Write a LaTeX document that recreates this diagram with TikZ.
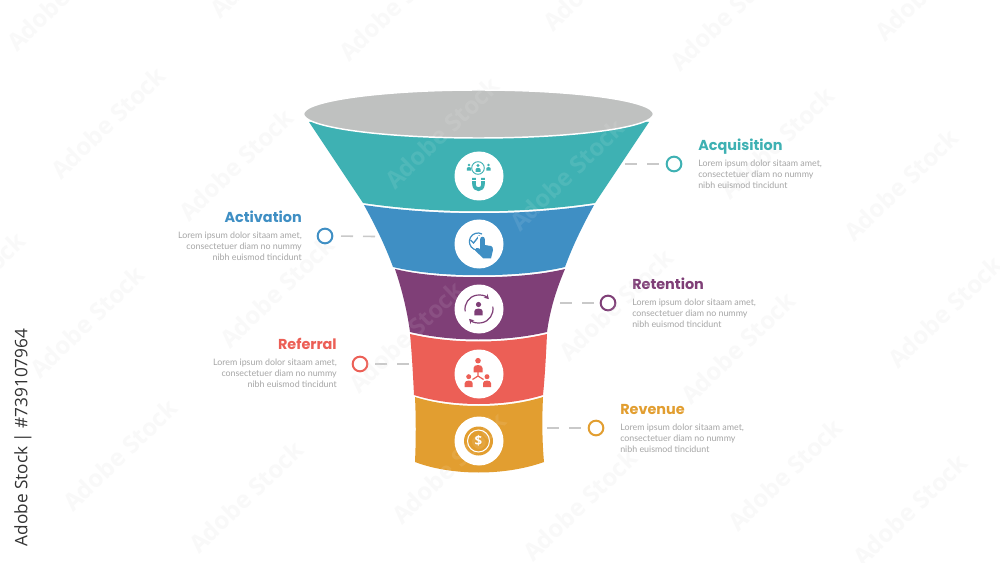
\documentclass[tikz,border=0pt]{standalone}
\usepackage{fontspec}
\usetikzlibrary{arrows.meta}
\setmainfont{Lato}
\newfontfamily\headf{Poppins}
\newfontfamily\sidef{Open Sans}
\definecolor{cteal}{HTML}{3EB1B3}
\definecolor{cblue}{HTML}{3F8FC4}
\definecolor{cpurple}{HTML}{7F3F77}
\definecolor{cred}{HTML}{EC5F56}
\definecolor{cyel}{HTML}{E29E30}
\definecolor{cgrey}{HTML}{BFC1C0}
\definecolor{cdash}{HTML}{C9C9C9}
\definecolor{cbody}{HTML}{A6A6A6}
\tikzset{
  x=0.75pt,y=-0.75pt,
  iconbg/.style={circle,fill=white,minimum size=36.75pt,inner sep=0pt},
  dot/.style={circle,draw=#1,line width=1.5pt,fill=white,minimum size=11pt,inner sep=0pt},
  lead/.style={draw=cdash,line width=1.2pt,dash pattern=on 9pt off 7.5pt},
  headl/.style={font=\headf\bfseries\fontsize{10.8}{12}\selectfont,text=#1,inner sep=0pt},
  bodyl/.style={font=\fontsize{6.65}{8.25}\selectfont,text=cbody,inner sep=0pt},
  mark wm/.style={font=\sidef\bfseries\fontsize{18}{18}\selectfont,rotate=44,inner sep=0pt},
}
\newcommand{\figperson}[4]{% x y size colour
  \fill[#4] (#1,#2) circle ({#3*0.62});
  \fill[#4] ({#1-#3},{#2+#3*2.6}) -- ({#1-#3},{#2+#3*1.6}) .. controls ({#1-#3},{#2+#3*0.75}) and ({#1+#3},{#2+#3*0.75}) .. ({#1+#3},{#2+#3*1.6}) -- ({#1+#3},{#2+#3*2.6}) -- cycle;
}
\begin{document}
\begin{tikzpicture}
\useasboundingbox (0,0) rectangle (1000,563);
\fill[white] (0,0) rectangle (1000,563);
\begin{scope}
\clip (0,0) rectangle (1000,563);
\foreach \wx/\wy in {600/-25,727/15,932/-15,777/143,901/185,616/305,945/312,64/-5,267/-38,396/5,108/123,236/165,-32/288,87/322,277/292,120/455,246/497,738/348,785/475,910/510,406/337,449/468,580/505,567/175,442/133}
  \node[mark wm,text=black!2.5] at (\wx,\wy) {Adobe Stock};
\end{scope}
% funnel bands
\fill[cteal] (309,122) -- (479,100) -- (649,122)
  .. controls (631,149) and (613,176) .. (595,203)
  .. controls (520,214) and (438,214) .. (363,203)
  .. controls (345,176) and (327,149) .. (309,122) -- cycle;
\fill[cblue] (364,205) .. controls (438,216) and (520,216) .. (594,205)
  .. controls (583,225) and (573,245) .. (565,267)
  .. controls (520,278) and (438,278) .. (393,267)
  .. controls (385,245) and (375,225) .. (364,205) -- cycle;
\fill[cpurple] (395,269) .. controls (438,280) and (520,280) .. (565,269)
  .. controls (556,290) and (550,310) .. (547,332)
  .. controls (505,342) and (452,342) .. (410,332)
  .. controls (407,310) and (402,290) .. (395,269) -- cycle;
\fill[cred] (410,334) .. controls (452,344) and (505,344) .. (547,334)
  .. controls (546,355) and (545,375) .. (543,395)
  .. controls (505,407) and (452,407) .. (414,395)
  .. controls (413,375) and (412,355) .. (410,334) -- cycle;
\fill[cyel] (415,397) .. controls (452,409) and (505,409) .. (543,397)
  .. controls (542,418) and (542,440) .. (544,462)
  .. controls (505,476) and (452,476) .. (415,462)
  .. controls (416,440) and (416,418) .. (415,397) -- cycle;
\fill[cgrey,draw=white,line width=1.1pt] (478.5,114) ellipse [x radius=175, y radius=24];
% icon backgrounds
\node[iconbg] (iA) at (479,176) {};
\node[iconbg] (iB) at (479,244) {};
\node[iconbg] (iC) at (479,309) {};
\node[iconbg] (iD) at (479,374) {};
\node[iconbg] (iE) at (479,441) {};
% acquisition icon
\draw[cteal,line width=.7pt] (478,168) circle (6.3);
\figperson{478}{165.5}{2.5}{cteal}
\figperson{469}{165}{2.2}{cteal}
\figperson{488.5}{165}{2.2}{cteal}
\draw[cteal,line width=2.7pt] (474,178) -- (474,184) .. controls (474,191) and (483,191) .. (483,184) -- (483,178);
\draw[white,line width=.6pt] (472,180.5) -- (485,180.5);
% activation icon
\draw[cblue,line width=.9pt] (482,234) arc[start angle=-62,end angle=-300,radius=8.6];
\draw[cblue,line width=1pt] (470.5,240) -- (473.5,243) -- (479.5,235.5);
\fill[white] (478,236) rectangle (494,259);
\fill[cblue] (480.2,239) .. controls (480.2,236) and (484.8,236) .. (484.8,239) -- (484.8,245) -- (491,246) .. controls (492.5,246.5) and (493,248) .. (493,250) -- (491,258.5) -- (483.5,258.5) -- (475,250.5) .. controls (474.5,248.5) and (477,247) .. (480.2,249) -- cycle;
% retention icon
\draw[cpurple,line width=.9pt,-{Stealth[length=3.5pt,width=4pt]}] (465.2,311.4) arc[start angle=-190,end angle=-45,radius=14];
\draw[cpurple,line width=.9pt,-{Stealth[length=3.5pt,width=4pt]}] (492.8,306.6) arc[start angle=-10,end angle=135,radius=14];
\figperson{478.5}{304.5}{4.2}{cpurple}
% referral icon
\figperson{478}{360.7}{4.5}{cred}
\figperson{468.7}{376.7}{4}{cred}
\figperson{487}{376.7}{4}{cred}
\draw[cred,line width=.9pt] (478,371) -- (478,376) -- (472.5,379.5) (478,376) -- (483.5,379.5);
% revenue icon
\fill[cyel] (478.5,441) circle (14.5);
\draw[white,line width=.8pt] (478.5,441) circle (11);
\node[font=\sidef\bfseries\fontsize{10}{10}\selectfont,text=white,inner sep=0pt] (dol) at (478.5,441) {\$};
% markers and leaders
\node[dot=cteal] (dA) at (674,164) {};
\node[dot=cblue] (dB) at (325,236) {};
\node[dot=cpurple] (dC) at (608,303) {};
\node[dot=cred] (dD) at (360,364) {};
\node[dot=cyel] (dE) at (596,428) {};
\coordinate (tA) at (625,164);
\coordinate (tB) at (375,236.5);
\coordinate (tC) at (560,303);
\coordinate (tD) at (409,364);
\coordinate (tE) at (547,428);
\draw[lead] (tA) -- (dA.west);
\draw[lead] (tB) -- (dB.east);
\draw[lead] (tC) -- (dC.west);
\draw[lead] (tD) -- (dD.east);
\draw[lead] (tE) -- (dE.west);
% labels
\node[headl=cteal,anchor=base west] (hA) at (698,150.5) {Acquisition};
\node[bodyl,anchor=north west,align=left] (bA) at (698,160) {Lorem ipsum dolor sitaam amet,\\consectetuer diam no nummy\\nibh euismod tincidunt};
\node[headl=cblue,anchor=base east] (hB) at (302,222.5) {Activation};
\node[bodyl,anchor=north east,align=right] (bB) at (302,232) {Lorem ipsum dolor sitaam amet,\\consectetuer diam no nummy\\nibh euismod tincidunt};
\node[headl=cpurple,anchor=base west] (hC) at (632,289) {Retention};
\node[bodyl,anchor=north west,align=left] (bC) at (632,299) {Lorem ipsum dolor sitaam amet,\\consectetuer diam no nummy\\nibh euismod tincidunt};
\node[headl=cred,anchor=base east] (hD) at (337,349) {Referral};
\node[bodyl,anchor=north east,align=right] (bD) at (337,359) {Lorem ipsum dolor sitaam amet,\\consectetuer diam no nummy\\nibh euismod tincidunt};
\node[headl=cyel,anchor=base west] (hE) at (620,414) {Revenue};
\node[bodyl,anchor=north west,align=left] (bE) at (620,424) {Lorem ipsum dolor sitaam amet,\\consectetuer diam no nummy\\nibh euismod tincidunt};
% side credit
\node[font=\sidef\fontsize{12.9}{13}\selectfont,text=black!80,rotate=90,inner sep=0pt] (side) at (23,437.5) {Adobe Stock | \#739107964};
\foreach \wx/\wy in {406/337,449/468,580/505,567/175,442/133,616/305}
  \node[mark wm,text=white,opacity=.09] at (\wx,\wy) {Adobe Stock};
\end{tikzpicture}
\end{document}
